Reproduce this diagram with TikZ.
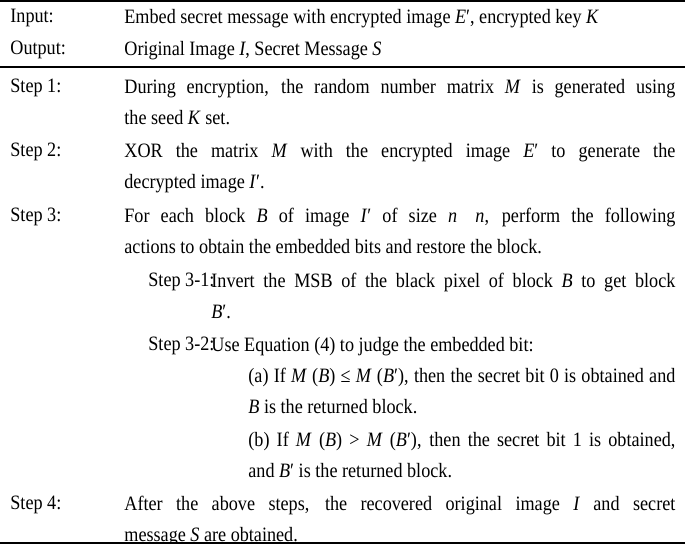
\documentclass[tikz,border=0pt]{standalone}
\usepackage{fontspec}
\setmainfont{Liberation Serif}[FakeStretch=0.89]
\begin{document}
\begin{tikzpicture}[x=0.5pt,y=-0.5pt,
  lab/.style={anchor=north west,inner sep=0pt,font=\fontsize{10.2}{15.25}\selectfont},
  par/.style={lab,text width=#1*0.5pt,align=justify}]
\useasboundingbox (0,0) rectangle (685,544);
\draw[line width=0.9pt] (0,1) -- (685,1);
\draw[line width=0.9pt] (0,67) -- (685,67);
\draw[line width=0.9pt] (0,543) -- (685,543);
\def\I#1{\textit{#1}}
\node[lab] (l0) at (10,9) {Input:};
\node[lab] (t0) at (124,9) {Embed secret message with encrypted image \I{E}′, encrypted key \I{K}};
\node[lab] (l1) at (10,41) {Output:};
\node[lab] (t1) at (124,41) {Original Image \I{I}, Secret Message \I{S}};
\node[lab] (l2) at (10,79) {Step 1:};
\node[par=551] (t2) at (124,79) {During encryption, the random number matrix \I{M} is generated using\linebreak the seed \I{K} set.};
\node[lab] (l3) at (10,143) {Step 2:};
\node[par=551] (t3) at (124,143) {XOR the matrix \I{M} with the encrypted image \I{E}′ to generate the\linebreak decrypted image \I{I}′.};
\node[lab] (l4) at (10,208) {Step 3:};
\node[par=551] (t4) at (124,208) {For each block \I{B} of image \I{I}′ of size \I{n}\hspace{0.9em}\I{n}, perform the following\linebreak actions to obtain the embedded bits and restore the block.};
\node[lab] (l5) at (148,273) {Step 3-1:};
\node[par=464] (t5) at (211,273) {Invert the MSB of the black pixel of block \I{B} to get block\linebreak \I{B}′.};
\node[lab] (l6) at (148,337) {Step 3-2:};
\node[lab] (t6) at (211,337) {Use Equation (4) to judge the embedded bit:};
\node[par=427] (t7) at (248,368) {(a) If \I{M} (\I{B}) ≤ \I{M} (\I{B}′), then the secret bit 0 is obtained and\linebreak \I{B} is the returned block.};
\node[par=427] (t8) at (248,432) {(b) If \I{M} (\I{B}) \textgreater{} \I{M} (\I{B}′), then the secret bit 1 is obtained,\linebreak and \I{B}′ is the returned block.};
\node[lab] (l9) at (10,496) {Step 4:};
\node[par=551] (t9) at (124,496) {After the above steps, the recovered original image \I{I} and secret\linebreak message \I{S} are obtained.};
\end{tikzpicture}
\end{document}
